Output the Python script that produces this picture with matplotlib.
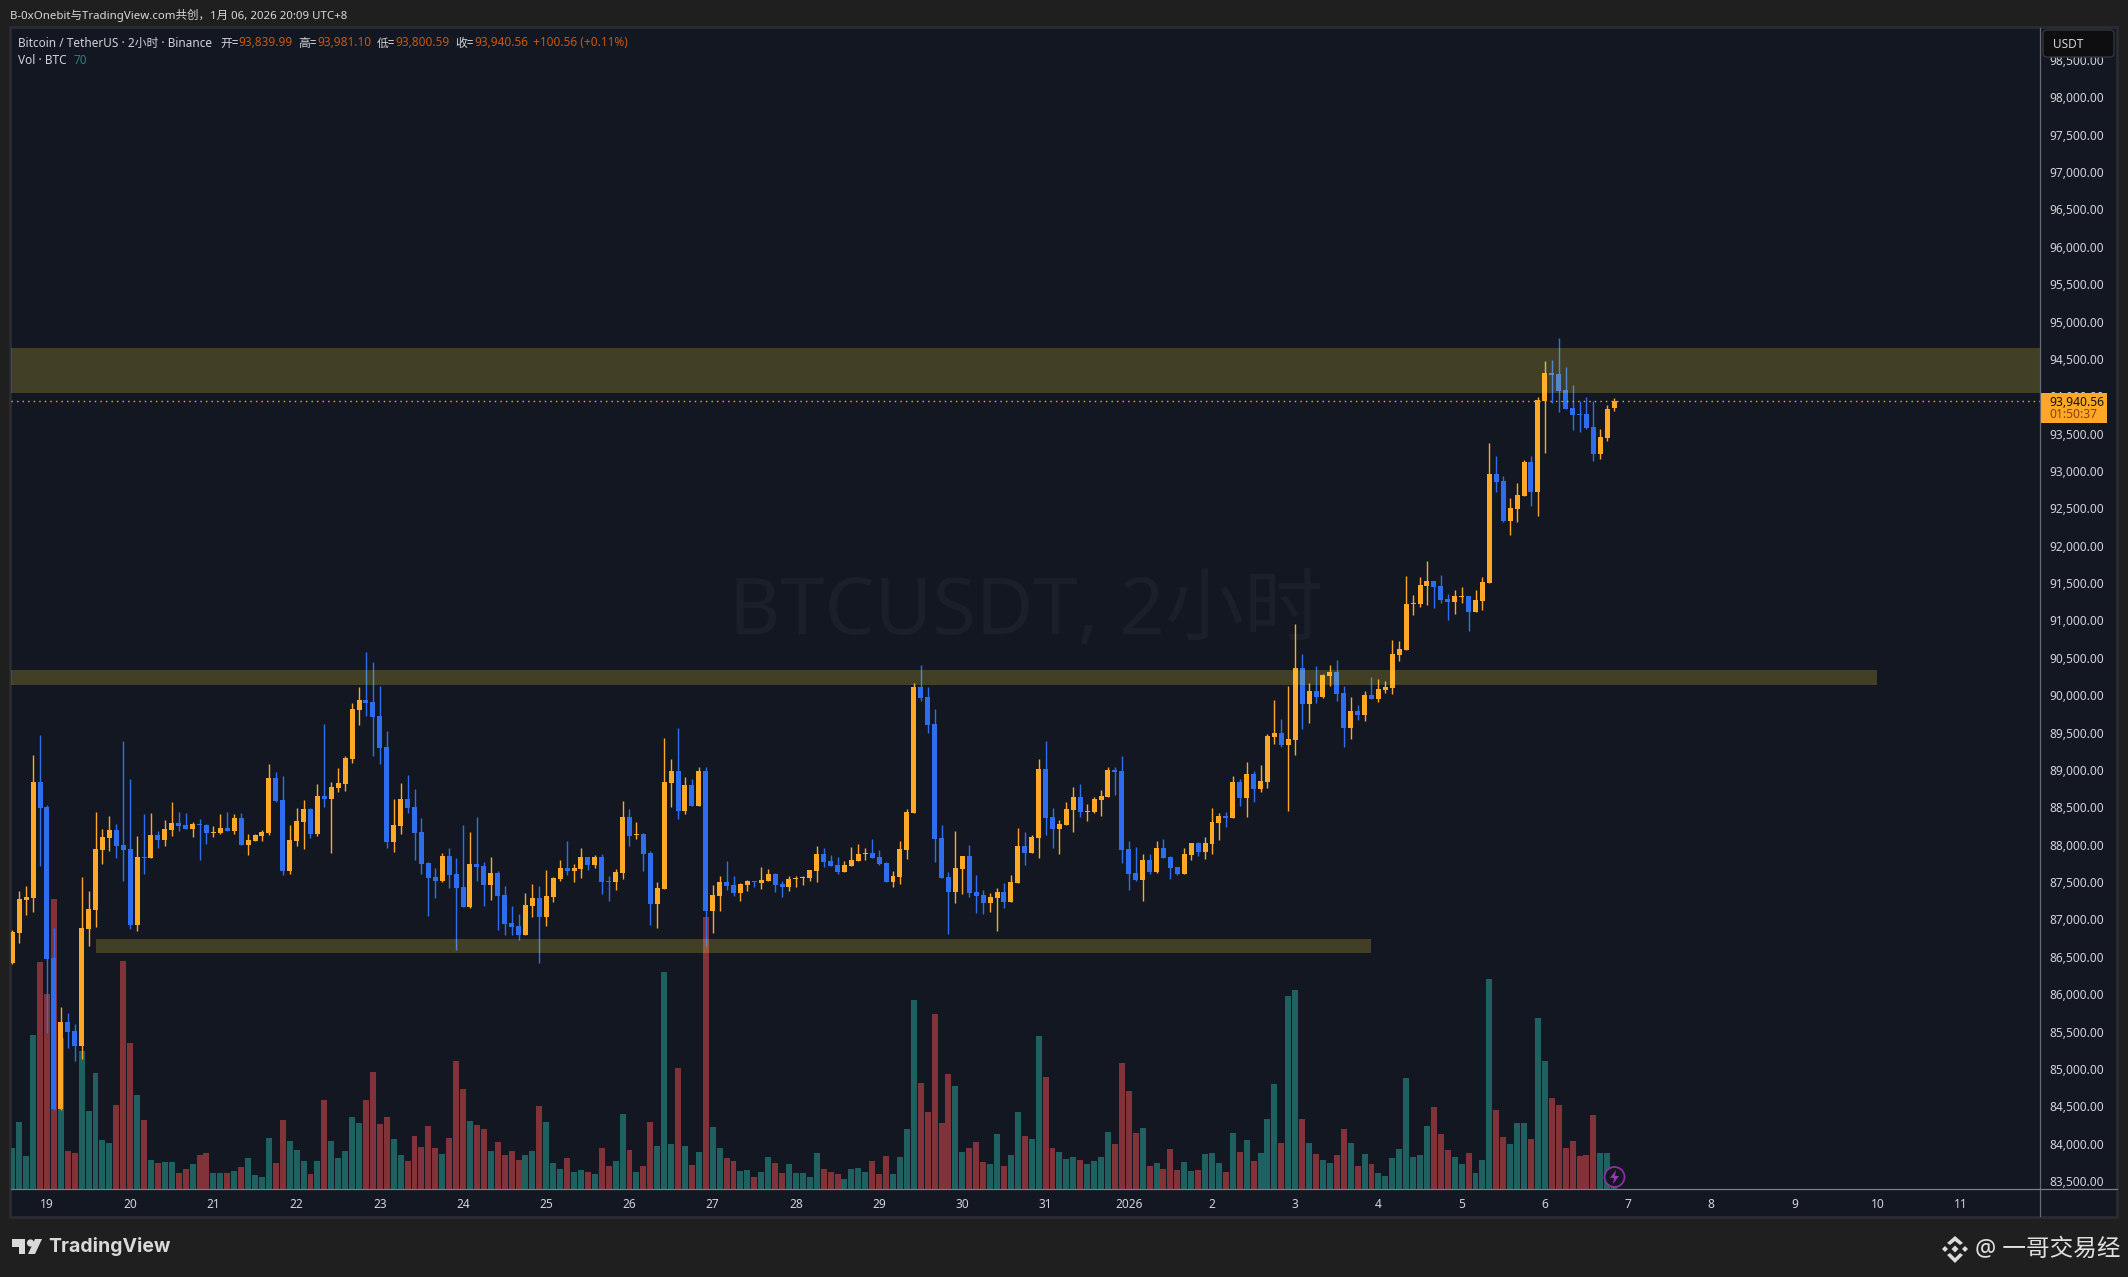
import matplotlib
matplotlib.use("Agg")
import matplotlib.pyplot as plt
from matplotlib.patches import Rectangle, FancyBboxPatch, Polygon, Ellipse, Circle

plt.rcParams['font.family'] = ['Noto Sans', 'Noto Sans CJK SC', 'DejaVu Sans']

directions = ("OOOOBBBOBB" "OOOOOBBBOB" "OBOOBBOBBO" "OBOBOOOOBB" "OOOBOBOOOO"
              "OBBBBOOBBB" "BBOBBBOBBO" "BBBBOOBOOO" "BOOBOBBOOB" "OBBOOOBOBO"
              "BOOBBOOBOO" "BBOOOOOBBB" "OOOOBBBOOO" "OBBBBBOOBB" "BOOBOOBOOB"
              "BOOOBOOOOB" "BBBOBOBBBO" "OBOOOBOBOB" "OOOBOOBOBO" "OBBOBOBOOO"
              "OOOOOBBBOO" "BOOOBBOOOB" "OOBBBBBBBOOO")

highs = [86859,87381,87448,89200,89468,88531,86886,85829,85748,85601,
         87568,87381,88438,88210,88384,88277,89388,88879,88117,88411,
         88424,88183,88331,88571,88438,88424,88304,88344,88277,88250,
         88411,88438,88411,88424,88143,88143,88197,89080,88973,88919,
         88264,88491,88598,88491,88812,89615,88839,89026,89187,89896,
         90110,90578,90445,90124,89521,88612,88826,88933,88745,88357,
         87769,87688,87889,87956,87822,88264,88170,88371,87769,87836,
         87648,87448,87180,87073,87354,87474,87448,87662,87568,87795,
         88050,87742,87956,87836,87862,87876,87581,87675,88585,88478,
         88304,88157,87916,87501,89428,89147,89562,88906,88879,89040,
         89040,87461,87581,87782,87581,87488,87528,87514,87702,87675,
         87621,87514,87581,87581,87581,87662,87983,87956,87862,87836,
         87782,87969,88009,87956,88076,87929,87769,87648,88050,88478,
         90164,90404,90110,89816,88264,87635,88183,87849,87996,87595,
         87394,87354,87421,87488,87595,88224,88170,88130,89147,89388,
         88491,88331,88571,88772,88812,88545,88638,88732,89040,89040,
         89187,88050,87969,87876,87876,88050,88076,87849,87702,87956,
         88023,88036,88103,88491,88424,88438,88919,88879,89107,88986,
         89066,89481,89936,89682,90124,90953,90552,90164,90391,90284,
         90404,90471,90124,89976,89869,90057,90244,90217,90190,90739,
         90726,91595,91341,91582,91796,91528,91609,91354,91408,91448,
         91328,91408,91582,93374,93200,92933,92638,92839,93147,93200,
         93990,94471,94485,94779,94391,94150,93936,93990,93936,93561,93882,93981.10]

body_tops = [86832,87274,87300,88839,88839,88505,86484,85628,85628,85507,
             86886,87140,87943,88103,88197,88197,87996,87943,87836,87836,
             88130,88130,88210,88290,88290,88264,88277,88277,88264,88170,
             88224,88224,88357,88357,88063,88130,88170,88893,88893,88598,
             88063,88317,88478,88478,88652,88652,88772,88826,89160,89816,
             89936,89936,89909,89722,89307,88264,88612,88612,88505,88170,
             87755,87568,87849,87849,87608,87434,87742,87742,87715,87621,
             87621,87327,86952,86912,87193,87287,87287,87314,87555,87688,
             87688,87688,87836,87836,87836,87836,87514,87635,88371,88371,
             88143,88143,87889,87421,88839,88986,88986,88799,88799,88986,
             88986,87327,87501,87501,87461,87474,87514,87514,87528,87608,
             87608,87474,87541,87555,87568,87662,87876,87876,87782,87728,
             87728,87795,87876,87889,87889,87836,87755,87581,87943,88438,
             90110,90110,89976,89615,88090,87568,87688,87849,87849,87367,
             87327,87300,87367,87367,87501,87983,87983,88103,89013,89013,
             88371,88277,88478,88638,88638,88451,88612,88652,89000,89000,
             88986,87943,87621,87795,87795,87956,87956,87836,87702,87876,
             88023,88023,88023,88304,88384,88384,88839,88839,88946,88946,
             88852,89455,89495,89495,89414,90364,90364,90057,90057,90271,
             90311,90311,90030,89789,89789,90003,90003,90083,90110,90552,
             90619,91221,91234,91475,91528,91528,91462,91288,91328,91328,
             91328,91274,91515,92959,92959,92866,92504,92678,93120,93120,
             93949,94311,94311,94297,94083,93842,93762,93762,93588,93454,93829,93940.56]

body_bottoms = [86422,86819,87260,87287,88491,86471,84464,84464,85494,85307,
                85307,86872,87126,87929,88090,87983,87929,86926,86926,87822,
                87822,88063,88063,88197,88250,88210,88210,88264,88157,88157,
                88157,88183,88183,87996,87996,88050,88117,88157,88585,87648,
                87648,88050,88304,88143,88143,88612,88612,88759,88812,89147,
                89802,89896,89709,89294,88036,88036,88250,88491,88157,87742,
                87555,87514,87514,87595,87421,87167,87167,87702,87461,87461,
                87314,86939,86899,86792,86792,87180,87033,87033,87300,87541,
                87648,87648,87675,87728,87728,87501,87501,87501,87621,88117,
                88130,87876,87207,87207,87407,88826,88451,88451,88518,88518,
                87113,87113,87314,87448,87354,87354,87461,87501,87488,87514,
                87461,87434,87434,87541,87555,87555,87648,87769,87715,87635,
                87635,87715,87782,87876,87822,87742,87501,87501,87568,87929,
                88424,89963,89602,88076,87555,87367,87367,87675,87354,87314,
                87220,87220,87287,87233,87233,87488,87889,87889,88090,88357,
                88210,88210,88264,88464,88438,88438,88438,88598,88638,88973,
                87929,87608,87528,87528,87635,87635,87822,87688,87608,87608,
                87862,87902,87902,88009,88290,88357,88357,88625,88625,88745,
                88745,88839,89441,89334,89334,89401,89883,89883,89976,89976,
                90257,90016,89562,89562,89735,89735,89950,89950,90070,90097,
                90538,90605,91221,91221,91462,91448,91274,91247,91247,91314,
                91114,91114,91261,91501,92852,92330,92330,92491,92665,92718,
                92718,93936,94284,94070,93829,93749,93749,93575,93227,93227,93441,93839.99]

lows = [86404,86685,87059,87100,87715,85481,84450,84450,85280,85106,
        85133,86645,86899,87742,87916,87822,87514,86872,86845,87608,
        87822,87956,87983,88117,88183,88210,88103,87795,88009,88103,
        88143,88183,88143,87996,87862,88050,88050,88130,88571,87595,
        87608,87983,87943,88090,88117,88505,87889,88705,88719,89093,
        89602,89722,89187,89080,87956,87902,88143,88424,87795,87608,
        87046,87287,87501,87421,86591,87167,87153,87514,87180,87260,
        86859,86792,86792,86725,86792,87033,86417,86912,87233,87514,
        87595,87501,87555,87662,87688,87340,87247,87394,87541,87983,
        88076,87648,86926,86886,87407,88505,88344,88411,88518,88518,
        86645,86819,87113,87394,87314,87247,87381,87434,87407,87514,
        87367,87300,87381,87434,87461,87514,87501,87702,87715,87608,
        87635,87715,87782,87795,87822,87728,87501,87434,87474,87809,
        88424,89923,89495,87769,87555,86805,87220,87340,87300,87086,
        87073,87100,86845,87153,87233,87488,87728,87889,87822,88130,
        87956,87876,88264,88170,88371,88317,88424,88384,88638,88665,
        87755,87394,87514,87247,87608,87621,87822,87541,87595,87608,
        87795,87849,87809,87876,88063,88237,88357,88518,88371,88571,
        88705,88759,89347,89307,88451,89200,89548,89628,89896,89963,
        90124,89923,89307,89414,89669,89655,89950,89909,90030,90016,
        90458,90605,91074,91181,91207,91167,91234,91007,91087,91234,
        90859,91114,91140,91501,92718,92317,92143,92317,92665,92531,
        92397,93240,93909,93789,93829,93548,93521,93561,93133,93160,93401,93800.59]

volumes = [123,201,99,462,681,585,870,453,114,108,
           414,234,348,147,138,252,684,438,282,207,
           87,78,81,81,48,60,75,102,108,48,
           48,48,54,66,93,42,36,153,78,207,
           144,117,84,45,84,267,144,93,114,216,
           198,267,351,195,216,150,102,84,159,126,
           189,123,105,153,384,300,204,192,180,114,
           141,102,114,87,102,114,249,201,78,60,
           93,51,57,51,45,123,69,84,225,117,
           51,69,201,129,651,135,363,129,72,111,
           816,186,123,93,84,54,57,36,51,96,
           78,48,75,48,48,36,108,60,51,45,
           30,60,63,51,84,45,99,45,96,180,
           567,318,231,525,198,345,309,111,123,141,
           81,75,165,69,102,231,159,150,459,336,
           123,111,90,96,87,75,84,96,171,135,
           378,294,168,183,69,78,60,120,57,81,
           54,57,105,108,78,51,168,111,147,84,
           108,210,315,138,579,597,210,138,105,87,
           78,102,180,138,69,105,75,48,39,93,
           120,333,96,102,189,246,165,117,96,75,
           108,48,87,630,237,156,135,198,198,150,
           513,384,273,252,123,144,99,102,222,108,108,6]

day_tick_bars = [5 + 12 * k for k in range(24)]
day_labels = ['19','20','21','22','23','24','25','26','27','28','29','30','31','2026',
              '2','3','4','5','6','7','8','9','10','11']
price_ticks = list(range(83500, 99000, 500))

band_lows = [94043, 90137, 86551]
band_highs = [94645, 90337, 86738]
band_starts = [-2, -2, 12.07]
band_ends = [300, 268.9, 195.9]
last_price = 93940.56

BG = '#1f1f1f'; PANEL = '#121722'; BORDER = '#2a2c33'
ORANGE = '#FFA726'; BLUE = '#2E6EEE'; VGREEN = '#1F6060'; VRED = '#823339'
TXT = '#d2d3d6'; VALC = '#c8570f'

W, H = 2128, 1277
fig = plt.figure(figsize=(W / 100, H / 100), dpi=100, facecolor=BG)

def box(l, t, r, b):
    return [l / W, 1 - b / H, (r - l) / W, (b - t) / H]

bg = fig.add_axes([0, 0, 1, 1], zorder=0)
bg.set_xlim(0, W); bg.set_ylim(H, 0); bg.axis('off')
bg.add_patch(Rectangle((10, 27), 2107, 1190, fc=PANEL, ec=BORDER, lw=2))

xlim = (-0.187, 292.4)
ax_v = fig.add_axes(box(11, 28, 2040, 1189), zorder=1)
ax_v.patch.set_alpha(0)
ax_v.set_xlim(*xlim); ax_v.set_ylim(0, 3483); ax_v.axis('off')
ups = [d == 'O' for d in directions]
xs = list(range(len(highs)))
ax_v.bar(xs, volumes, width=0.86, color=[VGREEN if u else VRED for u in ups], lw=0)

ax = fig.add_axes(box(11, 28, 2040, 1189), zorder=2)
ax.patch.set_alpha(0)
ax.set_xlim(*xlim); ax.set_ylim(83393, 98927)
for s in ax.spines.values():
    s.set_visible(False)
ax.yaxis.tick_right()
ax.set_yticks(price_ticks)
ax.set_yticklabels([f"{p:,.2f}" for p in price_ticks], fontsize=8.6, color=TXT)
ax.tick_params(axis='y', length=0, pad=6.8)
ax.set_xticks(day_tick_bars)
ax.set_xticklabels(day_labels, fontsize=8.6, color=TXT)
for lab in ax.get_xticklabels():
    if lab.get_text() == '2026':
        lab.set_fontweight('bold')
ax.tick_params(axis='x', length=0, pad=6.8)

colors = [ORANGE if u else BLUE for u in ups]
ax.vlines(xs, lows, highs, colors=colors, lw=1.0, zorder=3)
ax.bar(xs, [max(t - b, 14) for t, b in zip(body_tops, body_bottoms)], bottom=body_bottoms,
       width=0.72, color=colors, lw=0, zorder=4)
ax.text(146.2, 91095, 'BTCUSDT, 2小时', fontsize=57, color='#1b1f2a', ha='center', va='center', zorder=1)

for lo, hi, x0, x1 in zip(band_lows, band_highs, band_starts, band_ends):
    ax.add_patch(Rectangle((x0, lo), x1 - x0, hi - lo, fc='#FFE83B', alpha=0.2, lw=0, zorder=5))
ax.axhline(last_price, color=ORANGE, lw=1.0, ls=(0, (1, 3)), zorder=6)

ov = fig.add_axes([0, 0, 1, 1], zorder=3)
ov.patch.set_alpha(0)
ov.set_xlim(0, W); ov.set_ylim(H, 0); ov.axis('off')
ov.plot([2040, 2040], [28, 1216], color='#66696f', lw=0.9)
ov.plot([11, 2117], [1189, 1189], color='#7b7e85', lw=0.9)

def t(x, y, s, color=TXT, size=8.5, **kw):
    ov.text(x, y, s, color=color, fontsize=size, va='center', ha=kw.pop('ha', 'left'), **kw)

t(10, 15, 'B-0xOnebit与TradingView.com共创，1月 06, 2026 20:09 UTC+8', color='#d8d8d8', size=8.25)
t(18, 43, 'Bitcoin / TetherUS · 2小时 · Binance')
t(220, 43, '开='); t(238, 43, '93,839.99', color=VALC)
t(298, 43, '高='); t(317, 43, '93,981.10', color=VALC)
t(377, 43, '低='); t(395, 43, '93,800.59', color=VALC)
t(455, 43, '收='); t(474, 43, '93,940.56', color=VALC)
t(533, 43, '+100.56 (+0.11%)', color=VALC)
t(18, 60, 'Vol · BTC'); t(74, 60, '70', color='#238079')

ov.add_patch(FancyBboxPatch((2046, 33), 65, 21, boxstyle='round,pad=3,rounding_size=4',
                            fc='#0e0e10', ec='#33353b', lw=1))
t(2053, 45, 'USDT')
ov.add_patch(Rectangle((2041, 393), 66, 30, fc=ORANGE, lw=0))
t(2049, 402, '93,940.56', color='#0f121a', size=8.7)
t(2049, 415, '01:50:37', color='#8a3f10', size=8.7)

# lightning badge
ov.add_patch(Ellipse((1614.5, 1177), 20, 20, fc=PANEL, ec='#8e2fa3', lw=1.3))
ov.add_patch(Polygon([(1616, 1170), (1610, 1178), (1614, 1178), (1613, 1184), (1619, 1176), (1615, 1176)],
                     fc='#9c38b4', lw=0))

# TradingView logo
LOGO = '#d9d9d9'
ov.add_patch(Polygon([(12, 1239), (25, 1239), (25, 1254), (19, 1254), (19, 1247), (12, 1247)], fc=LOGO, lw=0))
ov.add_patch(Circle((30.5, 1243), 3.6, fc=LOGO, lw=0))
ov.add_patch(Polygon([(35, 1239), (42, 1239), (35, 1254), (28, 1254)], fc=LOGO, lw=0))
ov.text(48, 1247, 'TradingView', color=LOGO, fontsize=14, family=['Inter', 'DejaVu Sans'],
        fontweight='bold', va='center')

# Binance mark and author
MK = '#dcdcdc'
def dia(cx, cy, r):
    ov.add_patch(Polygon([(cx, cy - r), (cx + r, cy), (cx, cy + r), (cx - r, cy)], fc=MK, lw=0))
dia(1955, 1249, 3.5); dia(1945, 1249, 3); dia(1965, 1249, 3)
ov.add_patch(Polygon([(1955, 1236), (1963, 1243), (1960, 1245), (1955, 1241), (1950, 1245), (1947, 1243)], fc=MK, lw=0))
ov.add_patch(Polygon([(1955, 1263), (1963, 1255), (1960, 1253), (1955, 1258), (1950, 1253), (1947, 1255)], fc=MK, lw=0))
t(1975, 1250, '@ 一哥交易经', color='#e0e0e0', size=17)

fig.savefig('out.png', dpi=100, facecolor=BG)
